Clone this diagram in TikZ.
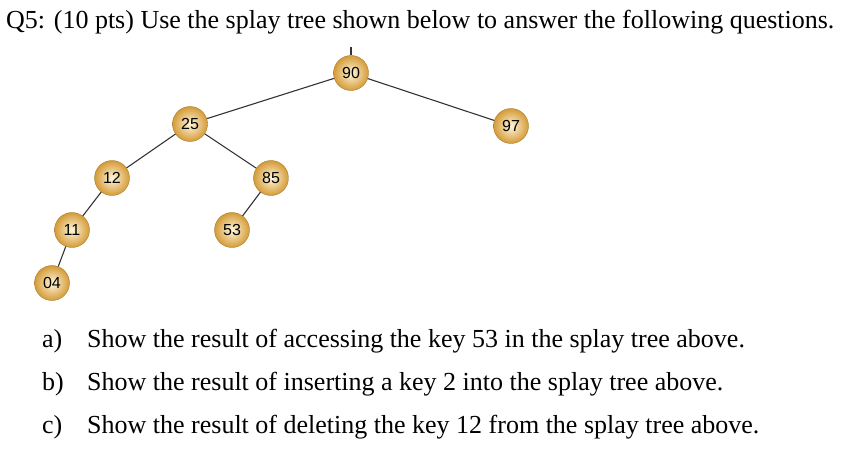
\documentclass[tikz,border=0pt]{standalone}
\usepackage{fontspec}
\setmainfont{Liberation Serif}
\definecolor{gin}{RGB}{255,246,220}
\definecolor{gout}{RGB}{212,155,55}
\begin{document}
\begin{tikzpicture}[x=1pt,y=-1pt,
  tn/.style={circle,minimum size=35pt,inner sep=0pt,shading=radial,inner color=gin,outer color=gout,draw=gout!80!black,line width=0.4pt,font=\fontspec{Liberation Sans}\fontsize{16}{16}\selectfont},
  ed/.style={draw=black!80,line width=1.1pt},
  txt/.style={anchor=west,inner sep=0pt,font=\fontsize{26}{28}\selectfont}]
\useasboundingbox (0,0) rectangle (856,460);
\node[txt] (title) at (6,22) {Q5: (10 pts) Use the splay tree shown below to answer the following questions.};
\coordinate (top) at (351,47);
\node[tn] (n90) at (351,73) {90};
\node[tn] (n25) at (190,124) {25};
\node[tn] (n97) at (511,126) {97};
\node[tn] (n12) at (112,178) {12};
\node[tn] (n85) at (271,178) {85};
\node[tn] (n11) at (72,230) {11};
\node[tn] (n53) at (232,230) {53};
\node[tn] (n04) at (52,283) {04};
\begin{scope}[on background layer/.try]
\end{scope}
\draw[ed] (top) -- (n90);
\draw[ed] (n90) -- (n25);
\draw[ed] (n90) -- (n97);
\draw[ed] (n25) -- (n12);
\draw[ed] (n25) -- (n85);
\draw[ed] (n12) -- (n11);
\draw[ed] (n85) -- (n53);
\draw[ed] (n11) -- (n04);
\node[txt] (la) at (42,341) {a)};
\node[txt] (ta) at (87,341) {Show the result of accessing the key 53 in the splay tree above.};
\node[txt] (lb) at (42,384) {b)};
\node[txt] (tb) at (87,384) {Show the result of inserting a key 2 into the splay tree above.};
\node[txt] (lc) at (42,427) {c)};
\node[txt] (tc) at (87,427) {Show the result of deleting the key 12 from the splay tree above.};
\end{tikzpicture}
\end{document}
